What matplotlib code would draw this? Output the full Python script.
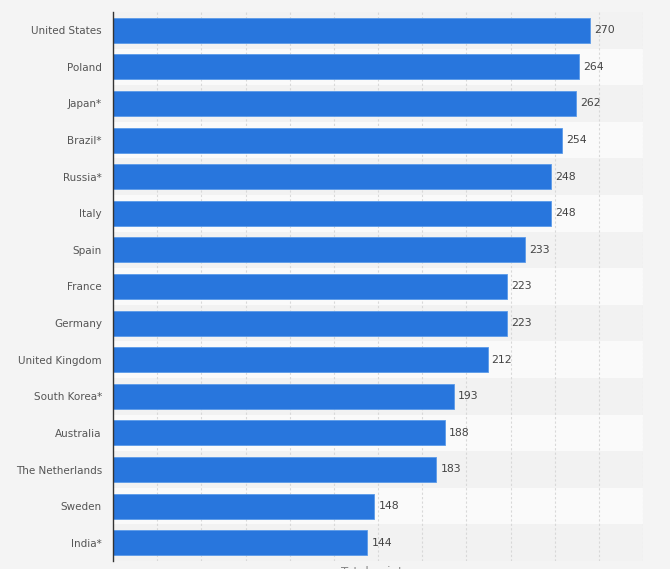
import matplotlib
matplotlib.use("Agg")
import matplotlib.pyplot as plt

# countries and values
countries = ["United States", "Poland", "Japan*", "Brazil*", "Russia*", "Italy",
             "Spain", "France", "Germany", "United Kingdom", "South Korea*",
             "Australia", "The Netherlands", "Sweden", "India*"]
values = [270, 264, 262, 254, 248, 248, 233, 223, 223, 212, 193, 188, 183, 148, 144]
x_label = "Total points"

fig = plt.figure(figsize=(6.7, 5.69), dpi=100, facecolor="#f4f4f4")
ax = fig.add_axes([113 / 670, 1 - 561 / 569, 530 / 670, 549 / 569])
ax.set_facecolor("#f4f4f4")

n = len(countries)
pos = list(range(n))

# alternating row stripes
for i in pos:
    ax.axhspan(i - 0.5, i + 0.5, color="#f2f2f2" if i % 2 == 0 else "#fafafa",
               zorder=0, lw=0)

ax.barh(pos, values, height=0.68, color="#2876dd", edgecolor="#5b9be9",
        linewidth=0.6, zorder=3)

for p, v in zip(pos, values):
    ax.text(v + 2.3, p, str(v), va="center", ha="left", fontsize=7.8,
            color="#444444", zorder=4)

ax.set_xlim(0, 300)
ax.set_ylim(n - 0.5, -0.5)
ax.set_yticks(pos)
ax.set_yticklabels(countries, fontsize=7.5, color="#555555")
ax.tick_params(axis="y", length=0, pad=8)
ax.set_xticks(range(25, 301, 25))
ax.tick_params(axis="x", length=0, labelbottom=False)
ax.grid(axis="x", color="#d8d8d8", linestyle=(0, (2, 2)), linewidth=0.8, zorder=1)

for s in ["top", "right", "bottom"]:
    ax.spines[s].set_visible(False)
ax.spines["left"].set_color("#333333")
ax.spines["left"].set_linewidth(1)
ax.spines["left"].set_zorder(5)

# axis title, only its top shows at the bottom edge like the reference
fig.text(0.56, 1 - 566 / 569, x_label, ha="center", va="top", fontsize=8.5,
         color="#888888")

fig.savefig("out.png", dpi=100, facecolor=fig.get_facecolor())
